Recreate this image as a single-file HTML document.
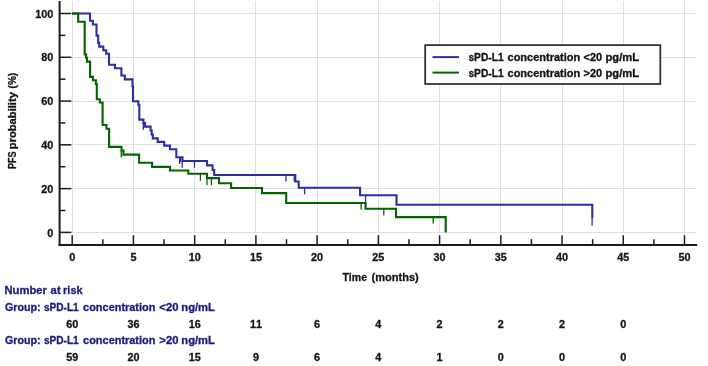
<!DOCTYPE html>
<html><head><meta charset="utf-8"><title>PFS by sPD-L1 concentration</title>
<style>
html,body{margin:0;padding:0;background:#fff;}
body{width:708px;height:366px;overflow:hidden;}
svg{display:block;}
svg text{font-family:'Liberation Sans', Arial, sans-serif;font-weight:bold;stroke-width:0.3px;font-kerning:none;}
</style></head><body>
<svg width="708" height="366" viewBox="0 0 708 366">
<rect width="708" height="366" fill="#fff"/>
<line x1="72.50" y1="1" x2="72.50" y2="232.40" stroke="#dfdfdf" stroke-width="1"/>
<line x1="133.50" y1="1" x2="133.50" y2="232.40" stroke="#dfdfdf" stroke-width="1"/>
<line x1="194.50" y1="1" x2="194.50" y2="232.40" stroke="#dfdfdf" stroke-width="1"/>
<line x1="255.50" y1="1" x2="255.50" y2="232.40" stroke="#dfdfdf" stroke-width="1"/>
<line x1="317.50" y1="1" x2="317.50" y2="232.40" stroke="#dfdfdf" stroke-width="1"/>
<line x1="378.50" y1="1" x2="378.50" y2="232.40" stroke="#dfdfdf" stroke-width="1"/>
<line x1="439.50" y1="1" x2="439.50" y2="232.40" stroke="#dfdfdf" stroke-width="1"/>
<line x1="500.50" y1="1" x2="500.50" y2="232.40" stroke="#dfdfdf" stroke-width="1"/>
<line x1="562.50" y1="1" x2="562.50" y2="232.40" stroke="#dfdfdf" stroke-width="1"/>
<line x1="623.50" y1="1" x2="623.50" y2="232.40" stroke="#dfdfdf" stroke-width="1"/>
<line x1="684.50" y1="1" x2="684.50" y2="232.40" stroke="#dfdfdf" stroke-width="1"/>
<line x1="72.20" y1="232.50" x2="696" y2="232.50" stroke="#dfdfdf" stroke-width="1"/>
<line x1="72.20" y1="188.50" x2="696" y2="188.50" stroke="#dfdfdf" stroke-width="1"/>
<line x1="72.20" y1="144.50" x2="696" y2="144.50" stroke="#dfdfdf" stroke-width="1"/>
<line x1="72.20" y1="101.50" x2="696" y2="101.50" stroke="#dfdfdf" stroke-width="1"/>
<line x1="72.20" y1="57.50" x2="696" y2="57.50" stroke="#dfdfdf" stroke-width="1"/>
<line x1="72.20" y1="13.50" x2="696" y2="13.50" stroke="#dfdfdf" stroke-width="1"/>
<rect x="425.2" y="45.1" width="235.1" height="38.9" fill="#fff" stroke="#2a2a2a" stroke-width="1.7"/>
<line x1="432.5" y1="57.1" x2="459" y2="57.1" stroke="#2e2ea2" stroke-width="2"/>
<line x1="432.5" y1="72.6" x2="459" y2="72.6" stroke="#006400" stroke-width="2"/>
<path d="M72,13.5 H90 V20.8 H92.9 V24.5 H96.5 V35.6 H98.2 V42.9 H99.2 V46.6 H103.3 V50.2 H106.2 V53.8 H109 V64.7 H115 V68.2 H121.4 V75.5 H124.8 V79.4 H132.5 V86.2 H133 V101.2 H138.3 V104.8 H139.3 V119.6 H143.5 V123.1 H145.1 V126.6 H150.6 V130.5 H151.7 V134.5 H152.8 V138.4 H157.7 V141.9 H164.2 V145.6 H170 V149.2 H176.3 V157.2 H182.5 V161 H207.1 V165.4 H212.6 V170 H214.2 V175 H295.3 V181.5 H298.7 V187.8 H360.1 V195.3 H396.5 V204.8 H592.3 V218" fill="none" stroke="#2e2ea2" stroke-width="2.1" stroke-linejoin="miter" stroke-linecap="butt"/>
<path d="M72,13.5 H78.2 V21.7 H84.7 V54.5 H86.1 V57.8 H87 V61.6 H90.1 V76.9 H92.9 V80.3 H95.9 V84 H96.8 V99.2 H99.8 V102.5 H102.6 V125 H106.5 V128.7 H109.1 V146.9 H121.5 V150.5 H123.5 V154.6 H139.1 V162.8 H152.1 V166.9 H170 V170.5 H188.3 V173.8 H207 V178.1 H219 V183.3 H231.1 V188 H262 V193.1 H286.2 V203 H365.6 V208.8 H396 V217.1 H445.7 V232.4" fill="none" stroke="#006400" stroke-width="2.1" stroke-linejoin="miter" stroke-linecap="butt"/>
<line x1="143.3" y1="123.1" x2="143.3" y2="129.7" stroke="#2e2ea2" stroke-width="1.3"/>
<line x1="179.6" y1="157.2" x2="179.6" y2="164" stroke="#2e2ea2" stroke-width="1.3"/>
<line x1="180.6" y1="157.2" x2="180.6" y2="162" stroke="#2e2ea2" stroke-width="1.3"/>
<line x1="182.2" y1="161" x2="182.2" y2="167.7" stroke="#2e2ea2" stroke-width="1.3"/>
<line x1="194.5" y1="161" x2="194.5" y2="167.7" stroke="#2e2ea2" stroke-width="1.3"/>
<line x1="286" y1="175" x2="286" y2="181.6" stroke="#2e2ea2" stroke-width="1.3"/>
<line x1="294.2" y1="175" x2="294.2" y2="181.5" stroke="#2e2ea2" stroke-width="1.3"/>
<line x1="304.6" y1="187.8" x2="304.6" y2="194.3" stroke="#2e2ea2" stroke-width="1.3"/>
<line x1="365.6" y1="195.3" x2="365.6" y2="202.5" stroke="#2e2ea2" stroke-width="1.3"/>
<line x1="592.1" y1="218" x2="592.1" y2="225.8" stroke="#2e2ea2" stroke-width="1.3"/>
<line x1="121.3" y1="150.5" x2="121.3" y2="157.3" stroke="#006400" stroke-width="1.3"/>
<line x1="200.4" y1="173.8" x2="200.4" y2="180.9" stroke="#006400" stroke-width="1.3"/>
<line x1="207" y1="178" x2="207" y2="185.2" stroke="#006400" stroke-width="1.3"/>
<line x1="211.4" y1="178.1" x2="211.4" y2="185.2" stroke="#006400" stroke-width="1.3"/>
<line x1="361.1" y1="203" x2="361.1" y2="209.6" stroke="#006400" stroke-width="1.3"/>
<line x1="383.8" y1="208.8" x2="383.8" y2="215.4" stroke="#006400" stroke-width="1.3"/>
<line x1="433.2" y1="217.1" x2="433.2" y2="223.5" stroke="#006400" stroke-width="1.3"/>
<line x1="59.6" y1="1" x2="59.6" y2="245.9" stroke="#1c1c1c" stroke-width="2"/>
<line x1="58.6" y1="244.9" x2="697.2" y2="244.9" stroke="#1c1c1c" stroke-width="2"/>
<line x1="60" y1="232.40" x2="71.4" y2="232.40" stroke="#1c1c1c" stroke-width="1.5"/>
<line x1="60" y1="210.51" x2="65.4" y2="210.51" stroke="#1c1c1c" stroke-width="1.5"/>
<line x1="60" y1="188.62" x2="71.4" y2="188.62" stroke="#1c1c1c" stroke-width="1.5"/>
<line x1="60" y1="166.73" x2="65.4" y2="166.73" stroke="#1c1c1c" stroke-width="1.5"/>
<line x1="60" y1="144.84" x2="71.4" y2="144.84" stroke="#1c1c1c" stroke-width="1.5"/>
<line x1="60" y1="122.95" x2="65.4" y2="122.95" stroke="#1c1c1c" stroke-width="1.5"/>
<line x1="60" y1="101.06" x2="71.4" y2="101.06" stroke="#1c1c1c" stroke-width="1.5"/>
<line x1="60" y1="79.17" x2="65.4" y2="79.17" stroke="#1c1c1c" stroke-width="1.5"/>
<line x1="60" y1="57.28" x2="71.4" y2="57.28" stroke="#1c1c1c" stroke-width="1.5"/>
<line x1="60" y1="35.39" x2="65.4" y2="35.39" stroke="#1c1c1c" stroke-width="1.5"/>
<line x1="60" y1="13.50" x2="71.4" y2="13.50" stroke="#1c1c1c" stroke-width="1.5"/>
<line x1="72.20" y1="235.2" x2="72.20" y2="244.5" stroke="#1c1c1c" stroke-width="1.5"/>
<line x1="102.81" y1="239.2" x2="102.81" y2="244.5" stroke="#1c1c1c" stroke-width="1.5"/>
<line x1="133.43" y1="235.2" x2="133.43" y2="244.5" stroke="#1c1c1c" stroke-width="1.5"/>
<line x1="164.05" y1="239.2" x2="164.05" y2="244.5" stroke="#1c1c1c" stroke-width="1.5"/>
<line x1="194.66" y1="235.2" x2="194.66" y2="244.5" stroke="#1c1c1c" stroke-width="1.5"/>
<line x1="225.28" y1="239.2" x2="225.28" y2="244.5" stroke="#1c1c1c" stroke-width="1.5"/>
<line x1="255.89" y1="235.2" x2="255.89" y2="244.5" stroke="#1c1c1c" stroke-width="1.5"/>
<line x1="286.50" y1="239.2" x2="286.50" y2="244.5" stroke="#1c1c1c" stroke-width="1.5"/>
<line x1="317.12" y1="235.2" x2="317.12" y2="244.5" stroke="#1c1c1c" stroke-width="1.5"/>
<line x1="347.74" y1="239.2" x2="347.74" y2="244.5" stroke="#1c1c1c" stroke-width="1.5"/>
<line x1="378.35" y1="235.2" x2="378.35" y2="244.5" stroke="#1c1c1c" stroke-width="1.5"/>
<line x1="408.96" y1="239.2" x2="408.96" y2="244.5" stroke="#1c1c1c" stroke-width="1.5"/>
<line x1="439.58" y1="235.2" x2="439.58" y2="244.5" stroke="#1c1c1c" stroke-width="1.5"/>
<line x1="470.19" y1="239.2" x2="470.19" y2="244.5" stroke="#1c1c1c" stroke-width="1.5"/>
<line x1="500.81" y1="235.2" x2="500.81" y2="244.5" stroke="#1c1c1c" stroke-width="1.5"/>
<line x1="531.43" y1="239.2" x2="531.43" y2="244.5" stroke="#1c1c1c" stroke-width="1.5"/>
<line x1="562.04" y1="235.2" x2="562.04" y2="244.5" stroke="#1c1c1c" stroke-width="1.5"/>
<line x1="592.66" y1="239.2" x2="592.66" y2="244.5" stroke="#1c1c1c" stroke-width="1.5"/>
<line x1="623.27" y1="235.2" x2="623.27" y2="244.5" stroke="#1c1c1c" stroke-width="1.5"/>
<line x1="653.89" y1="239.2" x2="653.89" y2="244.5" stroke="#1c1c1c" stroke-width="1.5"/>
<line x1="684.50" y1="235.2" x2="684.50" y2="244.5" stroke="#1c1c1c" stroke-width="1.5"/>
<text x="53.3" y="236.50" font-size="10.8" text-anchor="end" fill="#141414" stroke="#141414">0</text>
<text x="53.3" y="192.72" font-size="10.8" text-anchor="end" fill="#141414" stroke="#141414">20</text>
<text x="53.3" y="148.94" font-size="10.8" text-anchor="end" fill="#141414" stroke="#141414">40</text>
<text x="53.3" y="105.16" font-size="10.8" text-anchor="end" fill="#141414" stroke="#141414">60</text>
<text x="53.3" y="61.38" font-size="10.8" text-anchor="end" fill="#141414" stroke="#141414">80</text>
<text x="53.3" y="17.60" font-size="10.8" text-anchor="end" fill="#141414" stroke="#141414">100</text>
<text x="72.20" y="261.4" font-size="10.8" text-anchor="middle" fill="#141414" stroke="#141414">0</text>
<text x="133.43" y="261.4" font-size="10.8" text-anchor="middle" fill="#141414" stroke="#141414">5</text>
<text x="194.66" y="261.4" font-size="10.8" text-anchor="middle" fill="#141414" stroke="#141414">10</text>
<text x="255.89" y="261.4" font-size="10.8" text-anchor="middle" fill="#141414" stroke="#141414">15</text>
<text x="317.12" y="261.4" font-size="10.8" text-anchor="middle" fill="#141414" stroke="#141414">20</text>
<text x="378.35" y="261.4" font-size="10.8" text-anchor="middle" fill="#141414" stroke="#141414">25</text>
<text x="439.58" y="261.4" font-size="10.8" text-anchor="middle" fill="#141414" stroke="#141414">30</text>
<text x="500.81" y="261.4" font-size="10.8" text-anchor="middle" fill="#141414" stroke="#141414">35</text>
<text x="562.04" y="261.4" font-size="10.8" text-anchor="middle" fill="#141414" stroke="#141414">40</text>
<text x="623.27" y="261.4" font-size="10.8" text-anchor="middle" fill="#141414" stroke="#141414">45</text>
<text x="684.50" y="261.4" font-size="10.8" text-anchor="middle" fill="#141414" stroke="#141414">50</text>
<text x="342.43" y="280.7" font-size="11.0" fill="#141414" stroke="#141414" textLength="24.58" lengthAdjust="spacingAndGlyphs">Time</text>
<text x="371.50" y="280.7" font-size="11.0" fill="#141414" stroke="#141414" textLength="47.20" lengthAdjust="spacingAndGlyphs">(months)</text>
<text transform="rotate(-90)" x="-169.06" y="16.0" font-size="10.4" fill="#141414" stroke="#141414" textLength="17.66" lengthAdjust="spacingAndGlyphs">PFS</text>
<text transform="rotate(-90)" x="-149.19" y="16.0" font-size="10.4" fill="#141414" stroke="#141414" textLength="57.10" lengthAdjust="spacingAndGlyphs">probability</text>
<text transform="rotate(-90)" x="-88.45" y="16.0" font-size="10.4" fill="#141414" stroke="#141414" textLength="15.60" lengthAdjust="spacingAndGlyphs">(%)</text>
<text x="468.39" y="60.8" font-size="10.5" fill="#141414" stroke="#141414" textLength="35.24" lengthAdjust="spacingAndGlyphs">sPD-L1</text>
<text x="507.52" y="60.8" font-size="10.5" fill="#141414" stroke="#141414" textLength="72.71" lengthAdjust="spacingAndGlyphs">concentration</text>
<text x="583.49" y="60.8" font-size="10.5" fill="#141414" stroke="#141414" textLength="18.61" lengthAdjust="spacingAndGlyphs">&lt;20</text>
<text x="605.41" y="60.8" font-size="10.5" fill="#141414" stroke="#141414" textLength="33.69" lengthAdjust="spacingAndGlyphs">pg/mL</text>
<text x="468.39" y="76.6" font-size="10.5" fill="#141414" stroke="#141414" textLength="35.24" lengthAdjust="spacingAndGlyphs">sPD-L1</text>
<text x="507.52" y="76.6" font-size="10.5" fill="#141414" stroke="#141414" textLength="72.71" lengthAdjust="spacingAndGlyphs">concentration</text>
<text x="583.49" y="76.6" font-size="10.5" fill="#141414" stroke="#141414" textLength="18.61" lengthAdjust="spacingAndGlyphs">&gt;20</text>
<text x="605.41" y="76.6" font-size="10.5" fill="#141414" stroke="#141414" textLength="33.69" lengthAdjust="spacingAndGlyphs">pg/mL</text>
<text x="4.50" y="294.4" font-size="10.5" fill="#1a1a80" stroke="#1a1a80" textLength="42.42" lengthAdjust="spacingAndGlyphs">Number</text>
<text x="50.62" y="294.4" font-size="10.5" fill="#1a1a80" stroke="#1a1a80" textLength="10.07" lengthAdjust="spacingAndGlyphs">at</text>
<text x="63.13" y="294.4" font-size="10.5" fill="#1a1a80" stroke="#1a1a80" textLength="19.41" lengthAdjust="spacingAndGlyphs">risk</text>
<text x="4.96" y="310.8" font-size="10.5" fill="#1a1a80" stroke="#1a1a80" textLength="35.72" lengthAdjust="spacingAndGlyphs">Group:</text>
<text x="43.89" y="310.8" font-size="10.5" fill="#1a1a80" stroke="#1a1a80" textLength="34.84" lengthAdjust="spacingAndGlyphs">sPD-L1</text>
<text x="83.12" y="310.8" font-size="10.5" fill="#1a1a80" stroke="#1a1a80" textLength="72.31" lengthAdjust="spacingAndGlyphs">concentration</text>
<text x="159.38" y="310.8" font-size="10.5" fill="#1a1a80" stroke="#1a1a80" textLength="19.14" lengthAdjust="spacingAndGlyphs">&lt;20</text>
<text x="181.31" y="310.8" font-size="10.5" fill="#1a1a80" stroke="#1a1a80" textLength="33.58" lengthAdjust="spacingAndGlyphs">ng/mL</text>
<text x="4.96" y="343.8" font-size="10.5" fill="#1a1a80" stroke="#1a1a80" textLength="35.72" lengthAdjust="spacingAndGlyphs">Group:</text>
<text x="43.89" y="343.8" font-size="10.5" fill="#1a1a80" stroke="#1a1a80" textLength="34.84" lengthAdjust="spacingAndGlyphs">sPD-L1</text>
<text x="83.12" y="343.8" font-size="10.5" fill="#1a1a80" stroke="#1a1a80" textLength="72.31" lengthAdjust="spacingAndGlyphs">concentration</text>
<text x="159.38" y="343.8" font-size="10.5" fill="#1a1a80" stroke="#1a1a80" textLength="19.14" lengthAdjust="spacingAndGlyphs">&gt;20</text>
<text x="181.31" y="343.8" font-size="10.5" fill="#1a1a80" stroke="#1a1a80" textLength="33.58" lengthAdjust="spacingAndGlyphs">ng/mL</text>
<text x="72.20" y="327.5" font-size="10.8" text-anchor="middle" fill="#141414" stroke="#141414">60</text>
<text x="133.43" y="327.5" font-size="10.8" text-anchor="middle" fill="#141414" stroke="#141414">36</text>
<text x="194.66" y="327.5" font-size="10.8" text-anchor="middle" fill="#141414" stroke="#141414">16</text>
<text x="255.89" y="327.5" font-size="10.8" text-anchor="middle" fill="#141414" stroke="#141414">11</text>
<text x="317.12" y="327.5" font-size="10.8" text-anchor="middle" fill="#141414" stroke="#141414">6</text>
<text x="378.35" y="327.5" font-size="10.8" text-anchor="middle" fill="#141414" stroke="#141414">4</text>
<text x="439.58" y="327.5" font-size="10.8" text-anchor="middle" fill="#141414" stroke="#141414">2</text>
<text x="500.81" y="327.5" font-size="10.8" text-anchor="middle" fill="#141414" stroke="#141414">2</text>
<text x="562.04" y="327.5" font-size="10.8" text-anchor="middle" fill="#141414" stroke="#141414">2</text>
<text x="623.27" y="327.5" font-size="10.8" text-anchor="middle" fill="#141414" stroke="#141414">0</text>
<text x="72.20" y="360.5" font-size="10.8" text-anchor="middle" fill="#141414" stroke="#141414">59</text>
<text x="133.43" y="360.5" font-size="10.8" text-anchor="middle" fill="#141414" stroke="#141414">20</text>
<text x="194.66" y="360.5" font-size="10.8" text-anchor="middle" fill="#141414" stroke="#141414">15</text>
<text x="255.89" y="360.5" font-size="10.8" text-anchor="middle" fill="#141414" stroke="#141414">9</text>
<text x="317.12" y="360.5" font-size="10.8" text-anchor="middle" fill="#141414" stroke="#141414">6</text>
<text x="378.35" y="360.5" font-size="10.8" text-anchor="middle" fill="#141414" stroke="#141414">4</text>
<text x="439.58" y="360.5" font-size="10.8" text-anchor="middle" fill="#141414" stroke="#141414">1</text>
<text x="500.81" y="360.5" font-size="10.8" text-anchor="middle" fill="#141414" stroke="#141414">0</text>
<text x="562.04" y="360.5" font-size="10.8" text-anchor="middle" fill="#141414" stroke="#141414">0</text>
<text x="623.27" y="360.5" font-size="10.8" text-anchor="middle" fill="#141414" stroke="#141414">0</text>
</svg>
</body></html>
